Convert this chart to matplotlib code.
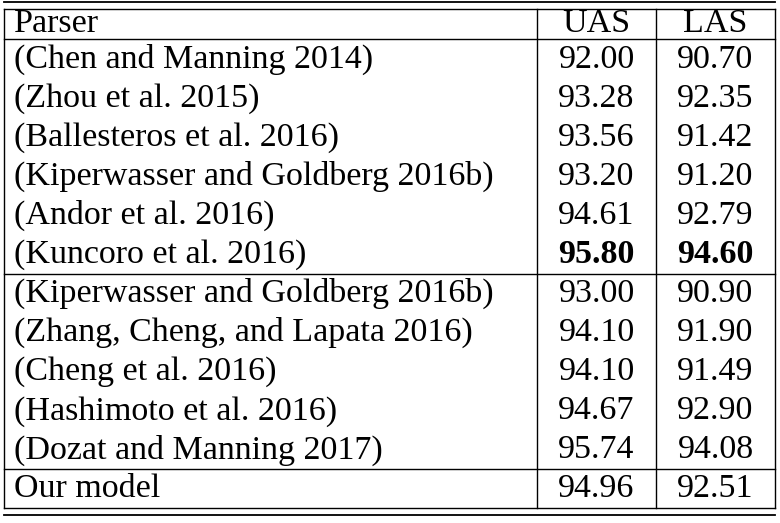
import matplotlib.pyplot as plt

parsers = ['(Chen and Manning 2014)', '(Zhou et al. 2015)', '(Ballesteros et al. 2016)',
           '(Kiperwasser and Goldberg 2016b)', '(Andor et al. 2016)', '(Kuncoro et al. 2016)',
           '(Kiperwasser and Goldberg 2016b)', '(Zhang, Cheng, and Lapata 2016)',
           '(Cheng et al. 2016)', '(Hashimoto et al. 2016)', '(Dozat and Manning 2017)',
           'Our model']
uas = ['92.00', '93.28', '93.56', '93.20', '94.61', '95.80',
       '93.00', '94.10', '94.10', '94.67', '95.74', '94.96']
las = ['90.70', '92.35', '91.42', '91.20', '92.79', '94.60',
       '90.90', '91.90', '91.49', '92.90', '94.08', '92.51']
bold_row = 5

plt.rcParams['font.family'] = ['Liberation Serif', 'DejaVu Serif']
fig = plt.figure(figsize=(7.8, 5.23), dpi=100)
ax = fig.add_axes([0, 0, 1, 1])
ax.set_xlim(0, 780)
ax.set_ylim(523, 0)
ax.axis('off')

L, R, c1, c2 = 4, 775, 537, 656
top, hdr, bot = 9, 39, 508
row_h = (bot - hdr) / len(parsers)
fs = 24.5

# outer double lines and box
for y in (2, 515):
    ax.plot([L, R], [y, y], color='black', lw=1.3)
for y in (top, bot):
    ax.plot([L, R], [y, y], color='black', lw=1.0)
for x in (L, c1, c2, R):
    ax.plot([x, x], [top, bot], color='black', lw=1.0)
for y in (hdr, hdr + 6 * row_h, hdr + 11 * row_h):
    ax.plot([L, R], [y, y], color='black', lw=1.0)

ym = (top + hdr) / 2 + 8
ax.text(14, ym, 'Parser', fontsize=fs, va='baseline')
ax.text((c1 + c2) / 2, ym, 'UAS', fontsize=fs, va='baseline', ha='center')
ax.text((c2 + R) / 2, ym, 'LAS', fontsize=fs, va='baseline', ha='center')

for i, (p, u, l) in enumerate(zip(parsers, uas, las)):
    y = hdr + (i + 0.5) * row_h + 9
    w = 'bold' if i == bold_row else 'normal'
    ax.text(14, y, p, fontsize=fs, va='baseline')
    ax.text((c1 + c2) / 2, y, u, fontsize=fs, va='baseline', ha='center', fontweight=w)
    ax.text((c2 + R) / 2, y, l, fontsize=fs, va='baseline', ha='center', fontweight=w)

fig.savefig('out.png')
